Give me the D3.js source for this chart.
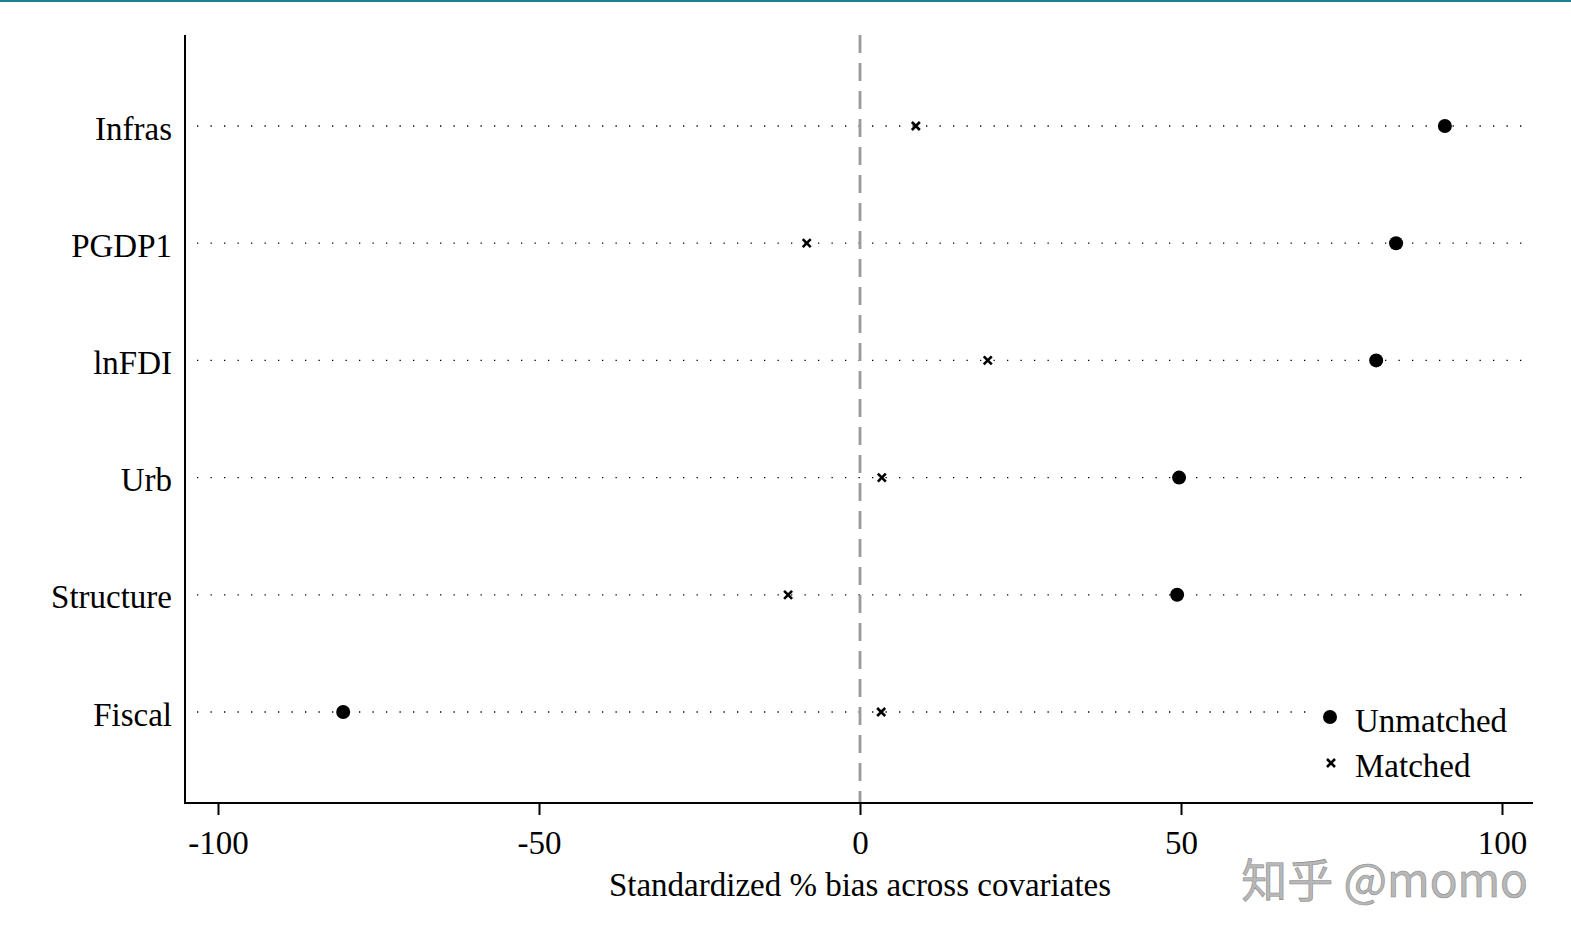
<!DOCTYPE html>
<html><head><meta charset="utf-8">
<script src="https://cdn.jsdelivr.net/npm/d3@7"></script>
<style>html,body{margin:0;padding:0;background:#fff;}svg{display:block;}</style>
</head><body>
<script>
const categories = ["Infras","PGDP1","lnFDI","Urb","Structure","Fiscal"];
const unmatched = [91.1, 83.5, 80.4, 49.7, 49.4, -80.5];
const matched = [8.7, -8.3, 19.9, 3.4, -11.2, 3.3];
const xTicks = [-100,-50,0,50,100];
const xTitle = "Standardized % bias across covariates";
const legendLabels = ["Unmatched","Matched"];

(function(){
const W = 1571, H = 943;
const svg = d3.select("body").append("svg").attr("width", W).attr("height", H);
const font = "'Liberation Serif','Times New Roman',serif";
const fs = 33;

svg.append("rect").attr("x",0).attr("y",0).attr("width",W).attr("height",2).attr("fill","#1f7f8c");

const x = d3.scaleLinear().domain([-100,100]).range([218,1502]);
const y = d3.scalePoint().domain(categories).range([126,712]);
const pLeft = 185, pRight = 1533, pTop = 35, pBottom = 803;

// dotted lines
svg.append("g").selectAll("line").data(categories).join("line")
  .attr("x1",197).attr("x2",1525).attr("y1",d=>y(d)).attr("y2",d=>y(d))
  .attr("stroke","#000").attr("stroke-width",1.3).attr("stroke-dasharray","1.3 12.2");

// zero line
svg.append("line").attr("x1",x(0)).attr("x2",x(0)).attr("y1",pTop).attr("y2",pBottom)
  .attr("stroke","#9a9a9a").attr("stroke-width",2.8).attr("stroke-dasharray","18 10");

// axes
svg.append("line").attr("x1",pLeft).attr("x2",pLeft).attr("y1",pTop).attr("y2",pBottom+1).attr("stroke","#000").attr("stroke-width",2);
svg.append("line").attr("x1",pLeft-1).attr("x2",pRight).attr("y1",pBottom).attr("y2",pBottom).attr("stroke","#000").attr("stroke-width",2);

const xa = svg.append("g").attr("transform",`translate(0,${pBottom})`)
  .call(d3.axisBottom(x).tickValues(xTicks).tickSize(12).tickSizeOuter(0).tickFormat(d3.format("d")));
xa.select(".domain").remove();
xa.selectAll(".tick line").attr("stroke","#000").attr("stroke-width",2);
xa.selectAll(".tick text").attr("y",28).attr("dy","0.71em").attr("font-family",font).attr("font-size",fs).attr("fill","#000").text(d=>d<0?"-"+Math.abs(d):d);

// y labels
svg.append("g").selectAll("text").data(categories).join("text")
  .attr("x",172).attr("y",d=>y(d)+2).attr("dy","0.35em").attr("text-anchor","end")
  .attr("font-family",font).attr("font-size",fs).attr("fill","#000").text(d=>d);

// x title
svg.append("text").attr("x",x(0)).attr("y",896).attr("text-anchor","middle")
  .attr("font-family",font).attr("font-size",fs).attr("fill","#000").text(xTitle);

// markers
const xMark = (g,cx,cy,s)=>{
  g.append("path").attr("d",`M${cx-s},${cy-s}L${cx+s},${cy+s}M${cx-s},${cy+s}L${cx+s},${cy-s}`)
   .attr("stroke","#000").attr("stroke-width",2.6).attr("fill","none");
};
svg.append("g").selectAll("circle").data(categories).join("circle")
  .attr("cx",(d,i)=>x(unmatched[i])).attr("cy",d=>y(d)).attr("r",7).attr("fill","#000");
const mg = svg.append("g");
categories.forEach((d,i)=>xMark(mg,x(matched[i]),y(d),4));

// legend
svg.append("rect").attr("x",1314).attr("y",695).attr("width",212).attr("height",90).attr("fill","#fff");
svg.append("circle").attr("cx",1330).attr("cy",717).attr("r",7).attr("fill","#000");
xMark(svg,1331,763,4);
svg.append("g").selectAll("text").data(legendLabels).join("text")
  .attr("x",1355).attr("y",(d,i)=>720+i*45).attr("dy","0.35em")
  .attr("font-family",font).attr("font-size",fs).attr("fill","#000").text(d=>d);

// watermark
svg.append("text").attr("x",1528).attr("y",897).attr("text-anchor","end")
  .attr("font-family","'Noto Sans CJK SC','Noto Sans',sans-serif").attr("font-size",46)
  .attr("fill","#b8b8b8").attr("stroke","#8a8a8a").attr("stroke-width",0.6).text("知乎 @momo");
})();
</script>
</body></html>
